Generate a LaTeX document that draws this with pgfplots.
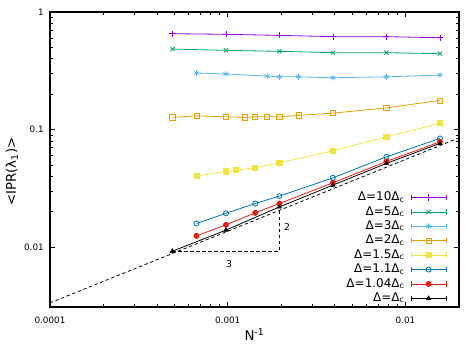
\documentclass[border=0pt]{standalone}
\usepackage{pgfplots}
\pgfplotsset{compat=1.18}
\usepackage{fontspec}
\setmainfont{DejaVu Sans}
\definecolor{cpurple}{HTML}{9400D3}
\definecolor{cgreen}{HTML}{009E73}
\definecolor{clblue}{HTML}{56B4E9}
\definecolor{corange}{HTML}{E69F00}
\definecolor{cyellow}{HTML}{F0E442}
\definecolor{cblue}{HTML}{0072B2}
\definecolor{cred}{HTML}{E51E10}
\begin{document}
\begin{tikzpicture}
\begin{loglogaxis}[
  scale only axis,
  width=306.75pt, height=221.25pt,
  xmin=1e-4, xmax=0.02, ymin=0.0031, ymax=1,
  xtick={1e-4,1e-3,1e-2}, xticklabels={0.0001,0.001,0.01},
  ytick={0.01,0.1,1}, yticklabels={0.01,0.1,1},
  /pgf/number format/assume math mode=true,
  tick label style={font=\fontsize{6.6}{7}\selectfont},
  xticklabel style={anchor=center, yshift=-9.75pt},
  yticklabel style={anchor=east, inner sep=0pt, xshift=-4.5pt},
  major tick length=3.75pt, minor tick length=1.9pt,
  every tick/.style={black, line width=0.6pt},
  axis line style={line width=0.9pt},
  xlabel={N\textsuperscript{-1}},
  ylabel={<IPR(λ\textsubscript{1})>},
  label style={font=\fontsize{9.3}{10}\selectfont},
  every axis x label/.style={at={(rel axis cs:0.5,0)}, yshift=-21pt, anchor=center},
  every axis y label/.style={at={(rel axis cs:0,0.459)}, xshift=-28.5pt, anchor=center, rotate=90},
  legend plot pos=right,
  legend cell align=right,
  legend style={draw=none, fill=none, at={(rel axis cs:0.97,0.004)}, anchor=south east,
    font=\fontsize{9}{10}\selectfont, inner sep=0pt, column sep=4.5pt, row sep=0pt,
    nodes={inner sep=0pt, text height=7.8pt, text depth=3pt}},
  legend image code/.code={
    \draw[#1, mark=none] (0cm,0cm) -- (0.92cm,0cm);
    \draw[#1, mark=none, solid] (0cm,-2pt) -- (0cm,2pt) (0.92cm,-2pt) -- (0.92cm,2pt);
    \draw[#1] plot coordinates {(0.46cm,0cm)};
  },
  every axis plot/.append style={line width=0.6pt, mark options={solid}},
]
\addplot[cpurple, mark=+, mark size=2.3pt] coordinates {
 (0.00048828,0.654) (0.00097656,0.646) (0.00195313,0.633) (0.00390625,0.617) (0.0078125,0.617) (0.015625,0.604)};
\addlegendentry{Δ=10Δ\textsubscript{c}}
\addplot[cgreen, mark=x, mark size=2.2pt] coordinates {
 (0.00048828,0.484) (0.00097656,0.472) (0.00195313,0.463) (0.00390625,0.451) (0.0078125,0.451) (0.015625,0.442)};
\addlegendentry{Δ=5Δ\textsubscript{c}}
\addplot[clblue, mark=asterisk, mark size=2.2pt] coordinates {
 (0.00066667,0.303) (0.00097656,0.297) (0.00166667,0.285) (0.00195313,0.281) (0.0025,0.281) (0.00390625,0.276) (0.0078125,0.281) (0.015625,0.291)};
\addlegendentry{Δ=3Δ\textsubscript{c}}
\addplot[corange, mark=square, mark size=1.9pt] coordinates {
 (0.00048828,0.127) (0.00066667,0.131) (0.00097656,0.1285) (0.00125,0.127) (0.00142857,0.1285) (0.00166667,0.1285) (0.00195313,0.1285) (0.0025,0.132) (0.00390625,0.138) (0.0078125,0.153) (0.015625,0.177)};
\addlegendentry{Δ=2Δ\textsubscript{c}}
\addplot[cyellow, mark=square*, mark size=1.9pt] coordinates {
 (0.00066667,0.0404) (0.00097656,0.0441) (0.00111111,0.0452) (0.00142857,0.0473) (0.00195313,0.0522) (0.00390625,0.0660) (0.0078125,0.0869) (0.015625,0.113)};
\addlegendentry{Δ=1.5Δ\textsubscript{c}}
\addplot[cblue, mark=o, mark size=1.9pt] coordinates {
 (0.00066667,0.0159) (0.00097656,0.0194) (0.00142857,0.0235) (0.00195313,0.0272) (0.00390625,0.0389) (0.0078125,0.0587) (0.015625,0.0841)};
\addlegendentry{Δ=1.1Δ\textsubscript{c}}
\addplot[cred, mark=*, mark size=1.9pt] coordinates {
 (0.00066667,0.01248) (0.00097656,0.01549) (0.00142857,0.0196) (0.00195313,0.0235) (0.00390625,0.0353) (0.0078125,0.0536) (0.015625,0.0787)};
\addlegendentry{Δ=1.04Δ\textsubscript{c}}
\addplot[black, mark=triangle*, mark size=1.7pt] coordinates {
 (0.00048828,0.00924) (0.00097656,0.01396) (0.00195313,0.0220) (0.00390625,0.0337) (0.0078125,0.0516) (0.015625,0.0763)};
\addlegendentry{Δ=Δ\textsubscript{c}}
\addplot[black, line width=0.6pt, dash pattern=on 2.5pt off 2pt, forget plot] coordinates {(0.0001,0.00336) (0.02,0.085)};
\addplot[black, line width=0.6pt, dash pattern=on 2.5pt off 2pt, forget plot] coordinates {(0.00048828,0.00924) (0.00195313,0.00924) (0.00195313,0.022)};
\node[font=\fontsize{7}{8}\selectfont] at (axis cs:0.001017,0.00716) {3};
\node[font=\fontsize{7}{8}\selectfont] at (axis cs:0.00216,0.0149) {2};
\coordinate (bl) at (rel axis cs:0,0);
\coordinate (tr) at (rel axis cs:1,1);
\end{loglogaxis}
\pgfresetboundingbox
\path ([shift={(-37.5pt,-36pt)}]bl) rectangle ([shift={(11.25pt,9pt)}]tr);
\end{tikzpicture}
\end{document}
